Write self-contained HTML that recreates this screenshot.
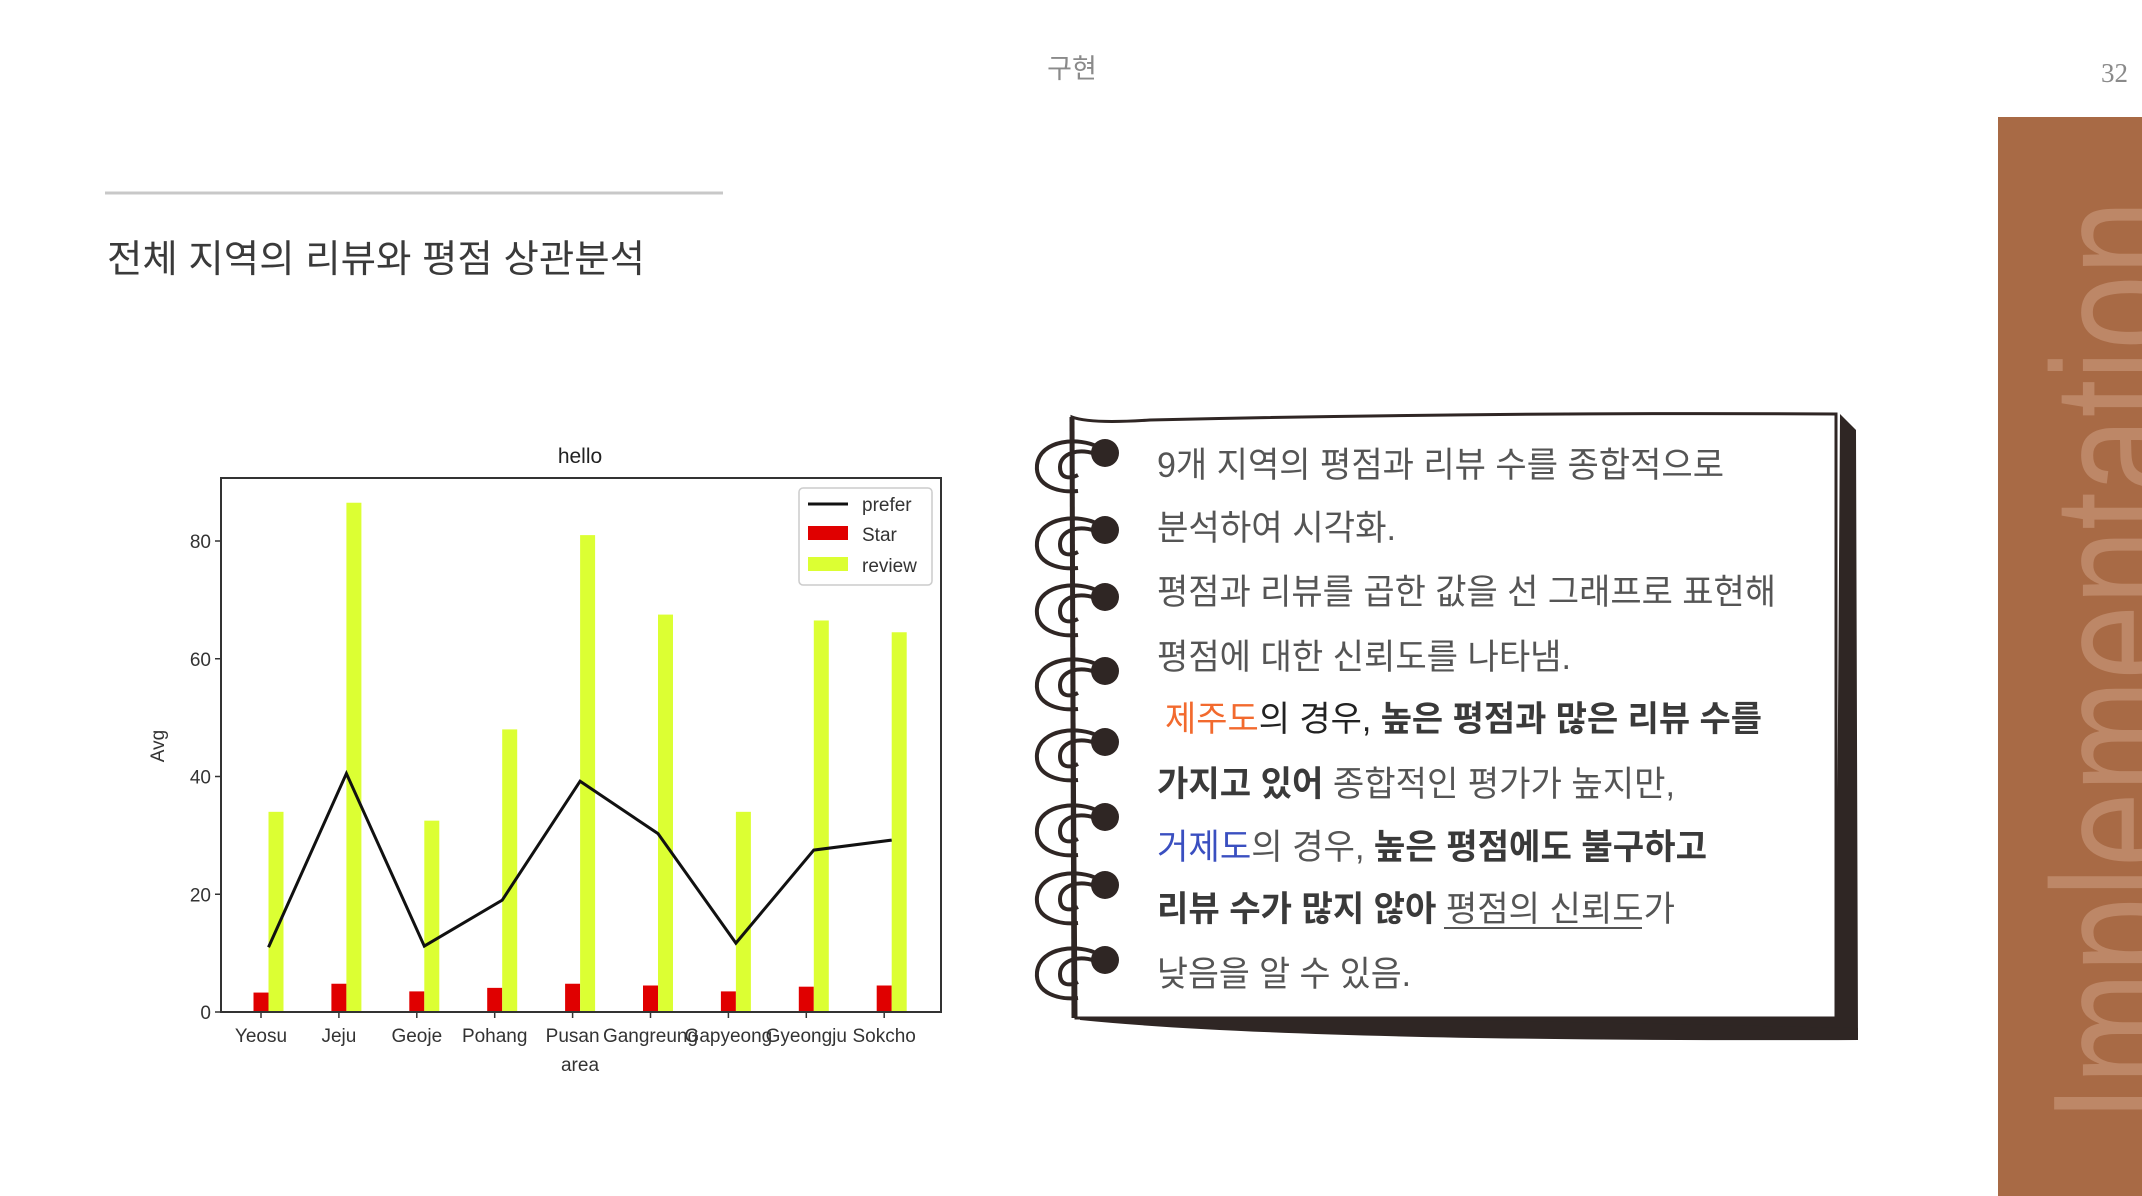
<!DOCTYPE html>
<html><head><meta charset="utf-8"><style>
html,body{margin:0;padding:0;background:#fff;}
svg{display:block;}
</style></head><body>
<svg id="page" width="2142" height="1196" viewBox="0 0 2142 1196" xmlns="http://www.w3.org/2000/svg">
  <rect width="2142" height="1196" fill="#fff"/>
  <text x="1072" y="78" font-family="'Liberation Sans','Noto Sans CJK KR',sans-serif" font-size="27" fill="#8a8a8a" text-anchor="middle">구현</text>
  <text x="2128" y="82" font-family="'Liberation Serif',serif" font-size="27" fill="#8a8a8a" text-anchor="end">32</text>
  <line x1="105" y1="193" x2="723" y2="193" stroke="#c8c8c8" stroke-width="3"/>
  <text x="107" y="272" font-family="'Liberation Sans','Noto Sans CJK KR',sans-serif" font-size="38" fill="#3a3a3a" textLength="538" lengthAdjust="spacingAndGlyphs">전체 지역의 리뷰와 평점 상관분석</text>

  <g>
    <rect x="1998" y="117" width="144" height="1079" fill="#a86a45"/>
    <text transform="translate(2178,1122) rotate(-90)" font-family="'Liberation Sans',sans-serif" font-size="180" fill="#bd8767" textLength="922" lengthAdjust="spacingAndGlyphs">Implementation</text>
  </g>

  <g id="chart"></g>

  <g>
    <path d="M1090 1012 L1858 1040 L1856 430 L1840 414 L1836 1018 Z" fill="#2f2624"/>
    <path d="M1080 1020 Q1300 1042 1858 1040 L1858 1028 L1080 1012 Z" fill="#2f2624"/>
    <path d="M1072 417 Q1090 424 1150 420 Q1500 412 1836 414 L1836 1018 L1076 1018 Z" fill="#fff" stroke="#2f2624" stroke-width="3"/>
    <line x1="1072" y1="417" x2="1074" y2="1018" stroke="#2f2624" stroke-width="5"/>
    <g id="rings"></g>
  </g>

  <g font-family="'Liberation Sans','Noto Sans CJK KR',sans-serif" font-size="35" fill="#555">
    <text x="1157" y="477" textLength="567" lengthAdjust="spacingAndGlyphs">9개 지역의 평점과 리뷰 수를 종합적으로</text>
    <text x="1157" y="540" textLength="239" lengthAdjust="spacingAndGlyphs">분석하여 시각화.</text>
    <text x="1157" y="604" textLength="619" lengthAdjust="spacingAndGlyphs">평점과 리뷰를 곱한 값을 선 그래프로 표현해</text>
    <text x="1157" y="669" textLength="414" lengthAdjust="spacingAndGlyphs">평점에 대한 신뢰도를 나타냄.</text>
    <text x="1165" y="731" textLength="597" lengthAdjust="spacingAndGlyphs"><tspan fill="#f26a2e">제주도</tspan><tspan fill="#222">의 경우, </tspan><tspan fill="#3a3a3a" font-weight="bold">높은 평점과 많은 리뷰 수를</tspan></text>
    <text x="1157" y="796" textLength="518" lengthAdjust="spacingAndGlyphs"><tspan fill="#3a3a3a" font-weight="bold">가지고 있어</tspan> 종합적인 평가가 높지만,</text>
    <text x="1157" y="859" textLength="550" lengthAdjust="spacingAndGlyphs"><tspan fill="#3a4fc0">거제도</tspan>의 경우, <tspan fill="#3a3a3a" font-weight="bold">높은 평점에도 불구하고</tspan></text>
    <text x="1157" y="921" textLength="518" lengthAdjust="spacingAndGlyphs"><tspan fill="#3a3a3a" font-weight="bold">리뷰 수가 많지 않아</tspan> 평점의 신뢰도가</text>
    <line x1="1444" y1="928" x2="1642" y2="928" stroke="#555" stroke-width="2"/>
    <text x="1157" y="986" textLength="254" lengthAdjust="spacingAndGlyphs">낮음을 알 수 있음.</text>
  </g>
</svg>
<script>
const categories = ["Yeosu","Jeju","Geoje","Pohang","Pusan","Gangreung","Gapyeong","Gyeongju","Sokcho"];
const starValues = [3.3, 4.8, 3.5, 4.1, 4.8, 4.5, 3.5, 4.3, 4.5];
const reviewValues = [34, 86.5, 32.5, 48, 81, 67.5, 34, 66.5, 64.5];
const preferValues = [11, 40.5, 11.2, 19, 39.2, 30.3, 11.7, 27.5, 29.2];
const yTicks = [0, 20, 40, 60, 80];

const NS = "http://www.w3.org/2000/svg";
function mk(tag, attrs, parent){const e=document.createElementNS(NS,tag);for(const k in attrs)e.setAttribute(k,attrs[k]);parent.appendChild(e);return e;}
const chart = document.getElementById('chart');
const L=221, R=941, T=478, B=1012;
const yMax = (B-T)/((1012-541)/80);
const ys = v => B - v/yMax*(B-T);
const x0 = 261, step = 77.9, bw = 15;
const xs = i => x0 + i*step;
const font = "'Liberation Sans',sans-serif";

categories.forEach((c,i)=>{
  const s = mk('rect',{x:xs(i)-bw/2,y:ys(starValues[i]),width:bw,height:B-ys(starValues[i]),fill:'#e00000'},chart);
  
  
  const r = mk('rect',{x:xs(i)+bw/2,y:ys(reviewValues[i]),width:bw,height:B-ys(reviewValues[i]),fill:'#dcff33'},chart);
  
  
  mk('line',{x1:xs(i),y1:B,x2:xs(i),y2:B+6,stroke:'#333','stroke-width':1.5},chart);
  const t = mk('text',{x:xs(i),y:1042,'font-family':font,'font-size':19,fill:'#333','text-anchor':'middle'},chart);
  t.textContent=c;
  
  
});
const pts = preferValues.map((v,i)=>(xs(i)+bw/2)+','+ys(v)).join(' ');
const line = mk('polyline',{points:pts,fill:'none',stroke:'#111','stroke-width':3},chart);



yTicks.forEach(v=>{
  mk('line',{x1:L-6,y1:ys(v),x2:L,y2:ys(v),stroke:'#333','stroke-width':1.5},chart);
  const t = mk('text',{x:L-10,y:ys(v)+7,'font-family':font,'font-size':19,fill:'#333','text-anchor':'end'},chart);
  t.textContent=v;
  
  
});
const frame = mk('rect',{x:L,y:T,width:R-L,height:B-T,fill:'none',stroke:'#333','stroke-width':2},chart);


const ttl = mk('text',{x:580,y:463,'font-family':font,'font-size':21,fill:'#222','text-anchor':'middle'},chart);
ttl.textContent='hello';


const xl = mk('text',{x:580,y:1071,'font-family':font,'font-size':19,fill:'#333','text-anchor':'middle'},chart);
xl.textContent='area';


const yl = mk('text',{x:0,y:0,transform:'translate(164,746) rotate(-90)','font-family':font,'font-size':19,fill:'#333','text-anchor':'middle'},chart);
yl.textContent='Avg';



const lg = mk('g',{},chart);


mk('rect',{x:799,y:488,width:133,height:97,rx:4,fill:'#fff',stroke:'#ccc','stroke-width':1.5},lg);
mk('line',{x1:808,y1:504,x2:848,y2:504,stroke:'#111','stroke-width':3},lg);
mk('rect',{x:808,y:526,width:40,height:14,fill:'#e00000'},lg);
mk('rect',{x:808,y:557,width:40,height:14,fill:'#dcff33'},lg);
[['prefer',511],['Star',541],['review',572]].forEach(([n,y])=>{
  const t=mk('text',{x:862,y:y,'font-family':font,'font-size':19,fill:'#333'},lg);
  t.textContent=n;
  
  
});

const ringYs=[453,530,597,671,742,817,885,960];
const rings=document.getElementById('rings');
ringYs.forEach(y=>{
  const g=mk('g',{},rings);
  
  
  mk('path',{d:`M1098 ${y-6} C1080 ${y-16} 1040 ${y-14} 1037 ${y+12} C1035 ${y+34} 1060 ${y+40} 1078 ${y+38} M1098 ${y+2} C1080 ${y-6} 1060 ${y} 1060 ${y+14} C1060 ${y+26} 1070 ${y+26} 1078 ${y+22}`,fill:'none',stroke:'#2f2624','stroke-width':4},g);
  mk('circle',{cx:1105,cy:y,r:14,fill:'#2f2624'},g);
});
</script>
</body></html>
